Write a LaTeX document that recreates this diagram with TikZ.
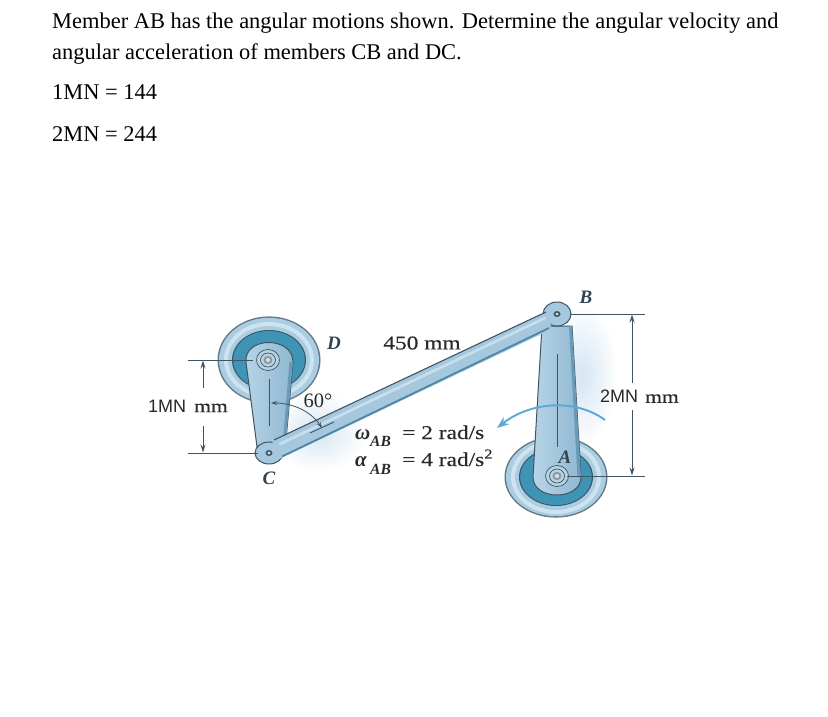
\documentclass[tikz,border=0pt]{standalone}
\usepackage{fontspec}
\setmainfont{Liberation Serif}
\newfontfamily\lblsans{Liberation Sans}
\newfontfamily\figfont[FakeStretch=1.2,FakeBold=0.3]{Liberation Serif}
\usetikzlibrary{arrows.meta,calc}
\definecolor{armfill}{HTML}{A5C8DE}
\definecolor{armlight}{HTML}{B8D4E6}
\definecolor{armdeep}{HTML}{8FB8D2}
\definecolor{armedge}{HTML}{3F5563}
\definecolor{linklow}{HTML}{4F86A6}
\definecolor{discout}{HTML}{A9CDE2}
\definecolor{discpale}{HTML}{CFE3EF}
\definecolor{discdark}{HTML}{3F93B5}
\definecolor{glow}{HTML}{D5E6F2}
\definecolor{swing}{HTML}{5AA9D6}
\definecolor{inktext}{HTML}{2A2A2A}
\tikzset{
  x=1pt,y=-1pt,
  statement/.style={anchor=base west,inner sep=0pt,font=\fontsize{22.45}{24}\selectfont,text=black},
  figlabel/.style={inner sep=0pt,font=\figfont\fontsize{19.5}{22}\selectfont,text=inktext},
  anglelabel/.style={inner sep=0pt,font=\fontsize{20.5}{22}\selectfont,text=inktext},
  pointlabel/.style={inner sep=0pt,font=\bfseries\itshape\fontsize{19}{20}\selectfont,text=armedge!80!black},
  greeklabel/.style={anchor=base west,inner sep=0pt,font=\bfseries\itshape\fontsize{21}{22}\selectfont,text=inktext},
  sublabel/.style={anchor=base west,inner sep=0pt,font=\bfseries\itshape\fontsize{15.5}{18}\selectfont,text=inktext},
  dimlabel/.style={inner sep=0pt,font=\lblsans\fontsize{18}{20}\selectfont,text=inktext},
  member/.style={draw=armedge,line width=1pt,left color=armlight,right color=armdeep,line join=round},
  headshape/.style={draw=armedge,line width=1pt,fill=armfill},
  thin line/.style={draw=armedge,line width=.9pt},
  dimhalf/.style={draw=armedge,line width=.9pt,-{Stealth[length=8pt,width=5pt]}},
  anglearc/.style={draw=armedge,line width=.8pt,{Stealth[length=6pt,width=4pt]}-{Stealth[length=6pt,width=4pt]}},
  glowpatch/.style={inner color=glow,outer color=white,draw=none},
}
% x, y, disc y-radius, ring y-radius
\newcommand{\pulleydisc}[4]{%
  \fill[armedge!80] (#1,#2) ellipse [x radius=51.5,y radius=#3+.6];
  \fill[discout] (#1,#2) ellipse [x radius=50,y radius=#3-.8];
  \draw[discpale,line width=4pt] (#1,#2) ellipse [x radius=43,y radius=#4+7];
  \fill[armedge] (#1,#2) ellipse [x radius=37,y radius=#4+1];
  \fill[discdark] (#1,#2) ellipse [x radius=35.8,y radius=#4];
}
\newcommand{\pulleyhub}[2]{%
  \fill[armfill!80!white,draw=armedge,line width=.7pt] (#1,#2) ellipse [x radius=11.5,y radius=10.5];
  \draw[armedge,line width=.7pt] (#1,#2) ellipse [x radius=7.5,y radius=7];
  \fill[armedge!60] (#1,#2) ellipse [x radius=4.5,y radius=4.2];
  \fill[armfill!50!white] (#1,#2) ellipse [x radius=2.2,y radius=2];
}
\begin{document}
\begin{tikzpicture}
\useasboundingbox (0,0) rectangle (828,716);
\fill[white] (0,0) rectangle (828,716);
% statement
\node[statement] (line1) at (52,28) {Member AB has the angular motions shown. Determine the angular velocity and};
\node[statement] (line2) at (52,59) {angular acceleration of members CB and DC.};
\node[statement] (line3) at (52,99) {1MN = 144};
\node[statement] (line4) at (52,141) {2MN = 244};
% glow
\shade[glowpatch] (318,432) ellipse [x radius=48,y radius=40];
\shade[glowpatch] (582,375) ellipse [x radius=36,y radius=72];
% pulleys
\pulleydisc{269}{360}{43}{29}
\pulleydisc{556}{477}{40}{28}
% arm CD
\path[member] (257,447) -- (246,362)
  .. controls (244,336) and (293,336) .. (293,362)
  -- (286,440) -- cycle;
\fill[linklow!70!armfill] (293,362) -- (286,440) -- (283,440) -- (289.5,362) -- cycle;
\pulleyhub{268}{360}
% arm AB
\path[member] (542,326) -- (533,477)
  .. controls (533,501) and (581,501) .. (581,477)
  -- (572,326) -- cycle;
\fill[linklow!70!armfill] (572,326) -- (581,477) -- (577.5,477) -- (569,326) -- cycle;
\pulleyhub{557}{476}
% link BC with its two heads
\path[headshape] (557,314) ellipse [x radius=14,y radius=12];
\path[headshape] (269,453) ellipse [x radius=14,y radius=11];
\fill[armfill] (272,441) -- (549,310.5) -- (551,329.5) -- (280,458.5) -- cycle;
\fill[armfill!60!white] (279,443) -- (545,316.5) -- (546,319) -- (280,445.5) -- cycle;
\coordinate (upperC) at (274,440);
\coordinate (upperB) at (546,312);
\coordinate (lowerC) at (282,456.5);
\coordinate (lowerB) at (549,328);
\draw[armedge,line width=1.1pt] (upperC) -- (upperB);
\draw[linklow,line width=1.8pt] (lowerC) -- (lowerB);
\fill[armedge] (557,314) ellipse [x radius=3.5,y radius=3];
\fill[armfill!50!white] (557,314) ellipse [x radius=1.6,y radius=1.4];
\fill[armedge] (269,453) ellipse [x radius=3.5,y radius=3];
\fill[armfill!50!white] (269,453) ellipse [x radius=1.6,y radius=1.4];
% centre lines
\coordinate (cdTop) at (269,379);
\coordinate (cdBot) at (269,426);
\coordinate (abTop) at (557,354);
\coordinate (abBot) at (557,447);
\coordinate (tickA) at (310,433);
\coordinate (tickB) at (334,422);
\draw[thin line] (cdTop) -- (cdBot);
\draw[thin line] (abTop) -- (abBot);
\draw[thin line] (tickA) -- (tickB);
% 60 degree arc
\coordinate (arcA) at (271,403);
\coordinate (arcB) at (322,428);
\draw[anglearc] (arcA) .. controls (295,403) and (312,413) .. (arcB);
% extension lines
\coordinate (extD1) at (188,360);
\coordinate (extD2) at (253,360);
\coordinate (extC1) at (188,453);
\coordinate (extC2) at (258,453);
\coordinate (extB1) at (570,314);
\coordinate (extB2) at (645,314);
\coordinate (extA1) at (567,476);
\coordinate (extA2) at (645,476);
\draw[thin line] (extD1) -- (extD2);
\draw[thin line] (extC1) -- (extC2);
\draw[thin line] (extB1) -- (extB2);
\draw[thin line] (extA1) -- (extA2);
% dimension lines
\coordinate (dimL1) at (203,388);
\coordinate (dimL1e) at (203,360.5);
\coordinate (dimL2) at (203,426);
\coordinate (dimL2e) at (203,452.5);
\coordinate (dimR1) at (632,383);
\coordinate (dimR1e) at (632,314.5);
\coordinate (dimR2) at (632,410);
\coordinate (dimR2e) at (632,475.5);
\draw[dimhalf] (dimL1) -- (dimL1e);
\draw[dimhalf] (dimL2) -- (dimL2e);
\draw[dimhalf] (dimR1) -- (dimR1e);
\draw[dimhalf] (dimR2) -- (dimR2e);
% angular velocity arrow
\coordinate (swingA) at (605,420);
\coordinate (swingB) at (497,428);
\draw[swing,line width=1.9pt,-{Stealth[length=12pt,width=9pt]}] (swingA) .. controls (575,398) and (530,402) .. (swingB);
% labels
\node[pointlabel] (lblD) at (334,343) {D};
\node[pointlabel] (lblC) at (269,478) {C};
\node[pointlabel] (lblB) at (586,297) {B};
\node[pointlabel] (lblA) at (565,457) {A};
\node[figlabel] (lenBC) at (422,343) {450 mm};
\node[anglelabel] (angle) at (318,401) {60°};
\node[dimlabel] (dimOne) at (188,406) {1MN\hspace{3pt} {\figfont mm}};
\node[dimlabel] (dimTwo) at (639.5,396.5) {2MN\hspace{2pt} {\figfont mm}};
\node[greeklabel] (omega) at (355,439) {ω};
\node[sublabel] (omegaSub) at (370,446) {AB};
\node[figlabel,anchor=base west] (omegaVal) at (402,439) {= 2 rad/s};
\node[greeklabel] (alpha) at (355,466) {α};
\node[sublabel] (alphaSub) at (370,474) {AB};
\node[figlabel,anchor=base west] (alphaVal) at (402,466) {= 4 rad/s\textsuperscript{2}};
\end{tikzpicture}
\end{document}
